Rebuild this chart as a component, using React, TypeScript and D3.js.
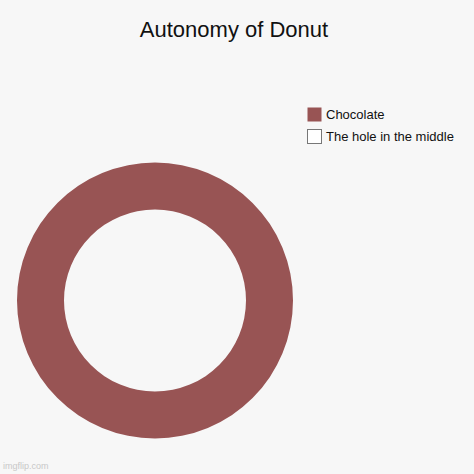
import React from "react";
import * as d3 from "d3";

const categories = ["Chocolate", "The hole in the middle"];
const values = [100, 0];
const colors = ["#985454", "#ffffff"];
const title = "Autonomy of Donut";

const W = 474;
const H = 474;

export default function App() {
  const pie = d3.pie<number>().sort(null)(values);
  const arc = d3.arc<d3.PieArcDatum<number>>().innerRadius(91).outerRadius(138);
  const cx = 155;
  const cy = 300.5;

  return (
    <svg
      width={W}
      height={H}
      style={{ position: "absolute", left: 0, top: 0, background: "#f7f7f7" }}
      fontFamily="'Liberation Sans', Arial, sans-serif"
    >
      <rect width={W} height={H} fill="#f7f7f7" />
      <text x={234} y={37} textAnchor="middle" fontSize={22} fill="#111">
        {title}
      </text>
      <g transform={`translate(${cx},${cy})`}>
        {pie.map((d, i) =>
          d.value > 0 ? <path key={i} d={arc(d) ?? ""} fill={colors[i]} /> : null
        )}
      </g>
      <g>
        {categories.map((c, i) => (
          <g key={c} transform={`translate(307,${107 + i * 22})`}>
            <rect
              x={0.5}
              y={0.5}
              width={14}
              height={14}
              fill={colors[i]}
              stroke={i === 0 ? "none" : "#777"}
              strokeWidth={1}
            />
            <text x={19} y={12} fontSize={13} fill="#111">
              {c}
            </text>
          </g>
        ))}
      </g>
      <text x={3} y={469} fontSize={9} fill="#c8c8c8">
        imgflip.com
      </text>
    </svg>
  );
}
